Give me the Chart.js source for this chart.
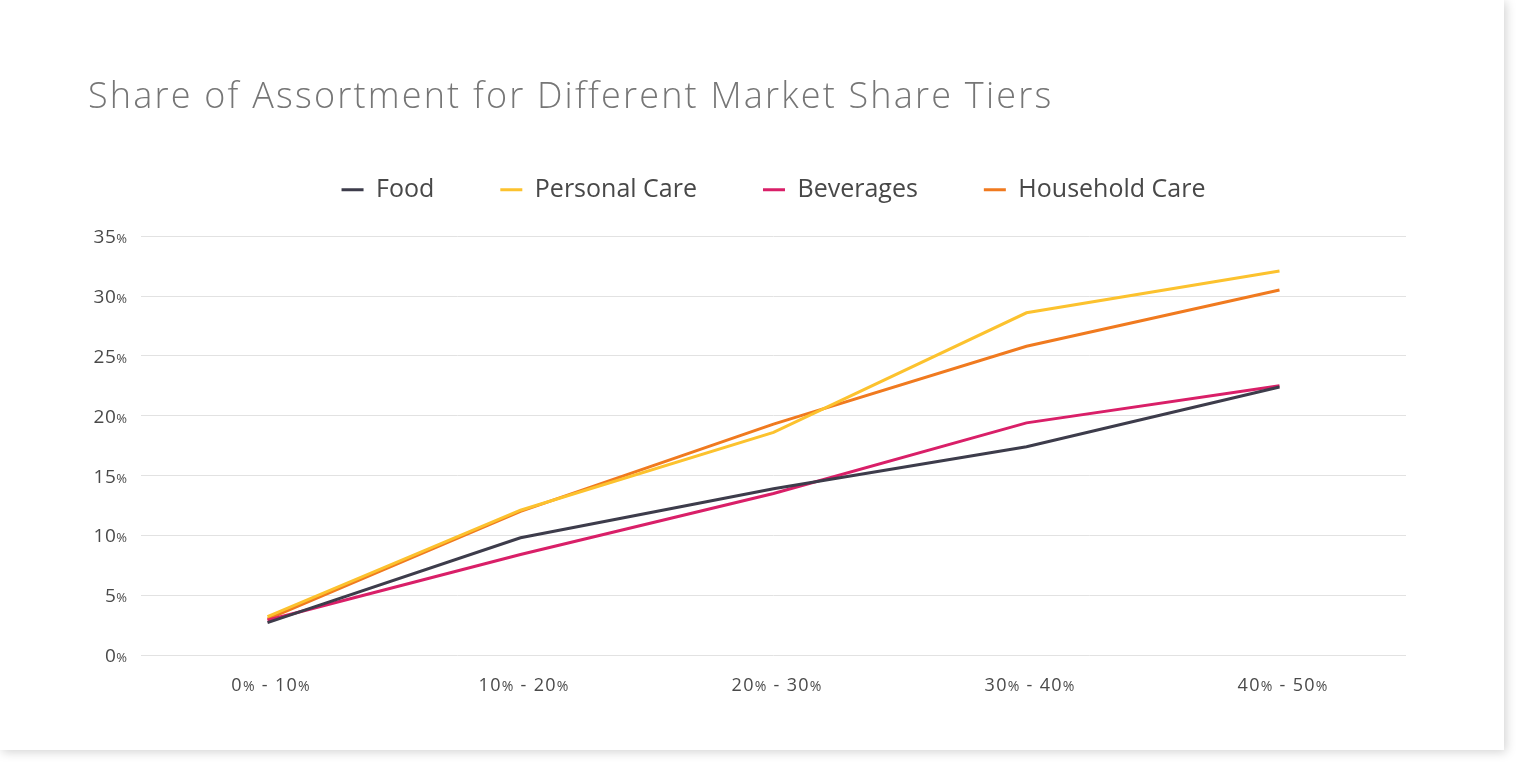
<!DOCTYPE html>
<html>
<head>
<meta charset="utf-8">
<script src="https://cdn.jsdelivr.net/npm/chart.js@4"></script>
<style>
  html, body { margin: 0; padding: 0; background: #ffffff; width: 1536px; height: 784px; overflow: hidden; }
  #card { position: absolute; left: 0; top: 0; width: 1504px; height: 750px; background: #fff;
          box-shadow: 2px 2px 10px rgba(0,0,0,0.18); }
  #c { position: absolute; left: 0; top: 0; }
</style>
</head>
<body>
<div id="card"><canvas id="c" width="1504" height="750"></canvas></div>
<script>
const categories = ["0% - 10%", "10% - 20%", "20% - 30%", "30% - 40%", "40% - 50%"];
const food = [2.7, 9.8, 13.9, 17.4, 22.4];
const personalCare = [3.2, 12.1, 18.6, 28.6, 32.1];
const beverages = [2.9, 8.4, 13.5, 19.4, 22.5];
const householdCare = [3.0, 12.0, 19.3, 25.8, 30.5];
const yTicks = [0, 5, 10, 15, 20, 25, 30, 35];

const FONT = "'Open Sans', Lato, sans-serif";

function drawMixed(ctx, text, x, y, align, big, small, spacing) {
  const parts = [];
  for (const ch of text) {
    const isSmall = ch === '%';
    if (parts.length && parts[parts.length-1].small === isSmall) parts[parts.length-1].t += ch;
    else parts.push({t: ch, small: isSmall});
  }
  ctx.letterSpacing = spacing + 'px';
  let total = 0;
  for (const p of parts) { ctx.font = (p.small ? small : big) + 'px ' + FONT; p.w = ctx.measureText(p.t).width; total += p.w; }
  total -= spacing;
  let cx = align === 'right' ? x - total : (align === 'center' ? x - total/2 : x);
  ctx.textAlign = 'left';
  ctx.textBaseline = 'alphabetic';
  for (const p of parts) { ctx.font = (p.small ? small : big) + 'px ' + FONT; ctx.fillText(p.t, cx, y); cx += p.w; }
  ctx.letterSpacing = '0px';
}

const mixedTicks = {
  id: 'mixedTicks',
  afterDraw(chart) {
    const ctx = chart.ctx;
    ctx.save();
    ctx.fillStyle = '#4a4a4a';
    const ys = chart.scales.y;
    for (const v of yTicks) {
      drawMixed(ctx, v + '%', ys.right - 14, ys.getPixelForValue(v) + 7, 'right', 19, 13, 0.5);
    }
    const xs = chart.scales.x;
    categories.forEach((c, i) => {
      drawMixed(ctx, c, xs.getPixelForValue(i) + 3, xs.top + 36, 'center', 18, 14, 1.3);
    });
    ctx.restore();
  }
};

const layoutTweak = {
  id: 'layoutTweak',
  beforeInit(chart) {
    const legend = chart.legend;
    const origFit = legend.fit;
    legend.fit = function() { origFit.call(this); this.height += 24; };
    const tb = chart.titleBlock;
    if (tb) {
      const origDraw = tb.draw;
      tb.draw = function() {
        const ctx = this.ctx;
        ctx.save();
        ctx.letterSpacing = '2.2px';
        origDraw.call(this);
        ctx.restore();
      };
    }
  },
  afterLayout(chart) {
    const lg = chart.legend, ca = chart.chartArea;
    const d = (ca.left + ca.right) / 2 - (lg.left + lg.right) / 2;
    lg.left += d; lg.right += d;
  }
};

new Chart(document.getElementById('c'), {
  type: 'line',
  data: {
    labels: categories,
    datasets: [
      { label: 'Food', data: food, borderColor: '#3d3c4b', backgroundColor: '#3d3c4b' },
      { label: 'Personal Care', data: personalCare, borderColor: '#fcc22e', backgroundColor: '#fcc22e' },
      { label: 'Beverages', data: beverages, borderColor: '#d91f68', backgroundColor: '#d91f68' },
      { label: 'Household Care', data: householdCare, borderColor: '#f07a1f', backgroundColor: '#f07a1f' }
    ]
  },
  options: {
    responsive: false,
    animation: false,
    elements: { point: { radius: 0, hoverRadius: 0 }, line: { borderWidth: 3, tension: 0 } },
    layout: { padding: { left: 88, right: 98, top: 76, bottom: 50 } },
    plugins: {
      title: {
        display: true, text: 'Share of Assortment for Different Market Share Tiers',
        align: 'start', color: '#767676',
        font: { family: FONT, size: 36, weight: '300' },
        padding: { top: 0, bottom: -8 }
      },
      legend: {
        display: true,
        labels: {
          color: '#484848', font: { family: FONT, size: 25 },
          boxWidth: 22, boxHeight: 3, padding: 66,
          generateLabels(chart) {
            return Chart.defaults.plugins.legend.labels.generateLabels(chart).map(l => Object.assign(l, { lineWidth: 0 }));
          }
        }
      },
      tooltip: { enabled: false }
    },
    scales: {
      x: {
        offset: true,
        afterFit(scale) { scale.height = 45; },
        grid: { display: false, drawTicks: false },
        border: { display: false },
        ticks: { color: 'rgba(0,0,0,0)', font: { family: FONT, size: 17 }, padding: 22 }
      },
      y: {
        min: 0, max: 35,
        afterBuildTicks(scale) { scale.ticks = yTicks.map(v => ({ value: v })); },
        afterFit(scale) { scale.width = 53; },
        grid: { color: '#e2e2e2', lineWidth: 1, drawTicks: false },
        border: { display: false },
        ticks: { color: 'rgba(0,0,0,0)', font: { family: FONT, size: 17 }, padding: 14,
                 callback: v => v + '%' }
      }
    }
  },
  plugins: [mixedTicks, layoutTweak]
});
</script>
</body>
</html>
